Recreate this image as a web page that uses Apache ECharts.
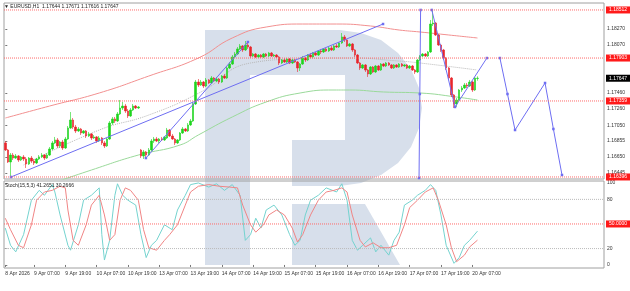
<!DOCTYPE html>
<html><head><meta charset="utf-8">
<script src="https://cdn.jsdelivr.net/npm/echarts@6/dist/echarts.min.js"></script>
<style>html,body{margin:0;padding:0;background:#fff}#c{width:630px;height:291px}</style>
</head><body><div id="c"></div><script>
const opens=[1.16827,1.16738,1.16586,1.16674,1.16636,1.16662,1.16611,1.16649,1.16624,1.16560,1.16636,1.16598,1.16573,1.16624,1.16649,1.16674,1.16636,1.16674,1.16751,1.16827,1.16865,1.16789,1.16839,1.16763,1.16877,1.17017,1.17118,1.17029,1.16979,1.17004,1.16953,1.16979,1.16915,1.16941,1.16890,1.16903,1.16852,1.16890,1.16827,1.16789,1.16877,1.17080,1.17131,1.17105,1.17194,1.17270,1.17295,1.17232,1.17169,1.17245,1.17295,1.17270,1.16738,1.16662,1.16713,1.16674,1.16738,1.16852,1.16877,1.16852,1.16877,1.16865,1.16890,1.16991,1.16915,1.16877,1.16827,1.16865,1.16953,1.17004,1.16979,1.17055,1.17105,1.17321,1.17599,1.17561,1.17599,1.17549,1.17625,1.17587,1.17650,1.17612,1.17637,1.17599,1.17675,1.17650,1.17777,1.17827,1.17916,1.17954,1.18018,1.18056,1.18005,1.18068,1.18043,1.17929,1.17954,1.17916,1.17941,1.17916,1.17954,1.17929,1.17967,1.17929,1.17941,1.17916,1.17840,1.17878,1.17853,1.17891,1.17840,1.17878,1.17853,1.17777,1.17827,1.17903,1.17878,1.17941,1.17916,1.17967,1.17941,1.17992,1.17980,1.18018,1.17992,1.18030,1.18005,1.18056,1.18043,1.18094,1.18170,1.18132,1.18056,1.18081,1.18005,1.17941,1.17840,1.17777,1.17815,1.17751,1.17701,1.17789,1.17726,1.17802,1.17751,1.17827,1.17802,1.17840,1.17815,1.17777,1.17815,1.17789,1.17827,1.17802,1.17815,1.17777,1.17802,1.17751,1.17726,1.17878,1.17929,1.17954,1.17929,1.17980,1.18334,1.18347,1.18195,1.18068,1.18005,1.17903,1.17777,1.17650,1.17435,1.17321,1.17371,1.17498,1.17523,1.17561,1.17549,1.17599,1.17498,1.17644];
const closes=[1.16738,1.16586,1.16674,1.16636,1.16662,1.16611,1.16649,1.16624,1.16560,1.16636,1.16598,1.16573,1.16624,1.16649,1.16674,1.16636,1.16674,1.16751,1.16827,1.16865,1.16789,1.16839,1.16763,1.16877,1.17017,1.17118,1.17029,1.16979,1.17004,1.16953,1.16979,1.16915,1.16941,1.16890,1.16903,1.16852,1.16890,1.16827,1.16789,1.16877,1.17080,1.17131,1.17105,1.17194,1.17270,1.17295,1.17232,1.17169,1.17245,1.17295,1.17270,1.17283,1.16662,1.16713,1.16674,1.16738,1.16852,1.16877,1.16852,1.16877,1.16865,1.16903,1.16991,1.16915,1.16877,1.16827,1.16865,1.16953,1.17004,1.16979,1.17055,1.17105,1.17321,1.17599,1.17561,1.17599,1.17549,1.17625,1.17587,1.17650,1.17612,1.17637,1.17599,1.17675,1.17650,1.17777,1.17827,1.17916,1.17954,1.18018,1.18056,1.18005,1.18068,1.18043,1.17929,1.17954,1.17916,1.17941,1.17916,1.17954,1.17929,1.17967,1.17929,1.17941,1.17916,1.17840,1.17878,1.17853,1.17891,1.17840,1.17878,1.17853,1.17777,1.17827,1.17903,1.17878,1.17941,1.17916,1.17967,1.17941,1.17992,1.17980,1.18018,1.17992,1.18030,1.18005,1.18056,1.18043,1.18094,1.18170,1.18132,1.18056,1.18081,1.18005,1.17941,1.17840,1.17777,1.17815,1.17751,1.17701,1.17789,1.17726,1.17802,1.17751,1.17827,1.17802,1.17840,1.17815,1.17777,1.17815,1.17789,1.17827,1.17802,1.17815,1.17777,1.17802,1.17751,1.17726,1.17878,1.17929,1.17954,1.17929,1.17980,1.18334,1.18347,1.18195,1.18068,1.18005,1.17903,1.17777,1.17650,1.17435,1.17321,1.17371,1.17498,1.17523,1.17561,1.17549,1.17599,1.17498,1.17650,1.17647];
const lows=[1.16725,1.16573,1.16396,1.16611,1.16624,1.16586,1.16598,1.16598,1.16510,1.16548,1.16573,1.16548,1.16560,1.16611,1.16636,1.16611,1.16624,1.16662,1.16738,1.16814,1.16763,1.16763,1.16738,1.16751,1.16865,1.17004,1.17004,1.16953,1.16966,1.16928,1.16941,1.16890,1.16903,1.16865,1.16877,1.16827,1.16839,1.16801,1.16763,1.16776,1.16865,1.17055,1.17080,1.17093,1.17181,1.17245,1.17207,1.17143,1.17156,1.17232,1.17257,1.17257,1.16636,1.16624,1.16649,1.16662,1.16725,1.16827,1.16839,1.16827,1.16852,1.16852,1.16877,1.16903,1.16865,1.16801,1.16814,1.16852,1.16941,1.16966,1.16966,1.17042,1.17093,1.17308,1.17536,1.17549,1.17523,1.17536,1.17574,1.17574,1.17599,1.17599,1.17574,1.17587,1.17637,1.17637,1.17764,1.17815,1.17903,1.17941,1.18005,1.17980,1.17992,1.18018,1.17903,1.17916,1.17903,1.17903,1.17903,1.17903,1.17916,1.17916,1.17916,1.17916,1.17903,1.17815,1.17827,1.17840,1.17840,1.17827,1.17827,1.17840,1.17726,1.17739,1.17815,1.17853,1.17865,1.17903,1.17903,1.17929,1.17929,1.17954,1.17967,1.17980,1.17980,1.17992,1.17992,1.18030,1.18030,1.18081,1.18106,1.18043,1.18043,1.17980,1.17916,1.17827,1.17751,1.17764,1.17726,1.17663,1.17688,1.17713,1.17713,1.17739,1.17739,1.17789,1.17789,1.17802,1.17764,1.17764,1.17777,1.17777,1.17789,1.17789,1.17764,1.17764,1.17739,1.17701,1.17713,1.17865,1.17916,1.17916,1.17916,1.17967,1.18309,1.18182,1.18056,1.17980,1.17878,1.17751,1.17625,1.17409,1.17270,1.17283,1.17359,1.17473,1.17511,1.17523,1.17536,1.17473,1.17485,1.17616];
const highs=[1.16852,1.16751,1.16700,1.16700,1.16687,1.16674,1.16662,1.16674,1.16649,1.16649,1.16662,1.16624,1.16636,1.16674,1.16700,1.16687,1.16700,1.16776,1.16852,1.16903,1.16890,1.16852,1.16865,1.16903,1.17042,1.17219,1.17143,1.17055,1.17029,1.17017,1.16991,1.16991,1.16966,1.16953,1.16928,1.16915,1.16915,1.16903,1.16852,1.16890,1.17105,1.17156,1.17156,1.17219,1.17371,1.17346,1.17321,1.17257,1.17270,1.17321,1.17308,1.17295,1.16751,1.16738,1.16725,1.16763,1.16877,1.16903,1.16903,1.16890,1.16903,1.16915,1.17017,1.17004,1.16941,1.16890,1.16877,1.16966,1.17029,1.17017,1.17080,1.17131,1.17346,1.17625,1.17637,1.17625,1.17612,1.17650,1.17637,1.17675,1.17663,1.17663,1.17650,1.17688,1.17701,1.17802,1.17853,1.17941,1.17980,1.18043,1.18081,1.18068,1.18119,1.18094,1.18056,1.17967,1.17967,1.17954,1.17954,1.17967,1.17967,1.17980,1.17980,1.17954,1.17954,1.17929,1.17891,1.17903,1.17903,1.17903,1.17891,1.17891,1.17865,1.17840,1.17929,1.17916,1.17954,1.17967,1.17980,1.17980,1.18005,1.18018,1.18030,1.18030,1.18043,1.18056,1.18068,1.18081,1.18106,1.18220,1.18195,1.18144,1.18094,1.18094,1.18018,1.17954,1.17853,1.17827,1.17827,1.17764,1.17802,1.17802,1.17815,1.17815,1.17840,1.17840,1.17853,1.17853,1.17827,1.17827,1.17827,1.17840,1.17840,1.17827,1.17827,1.17815,1.17815,1.17764,1.17891,1.17941,1.17967,1.17967,1.17992,1.18385,1.18512,1.18360,1.18207,1.18081,1.18018,1.17916,1.17789,1.17663,1.17447,1.17397,1.17511,1.17549,1.17587,1.17587,1.17625,1.17612,1.17663,1.17671];

const redMA=[[0,1.17143],[17,1.17295],[36,1.17460],[55,1.17675],[74,1.17903],[87,1.18157],[100,1.18296],[114,1.18334],[127,1.18334],[140,1.18309],[151,1.18258],[159,1.18233],[170,1.18195],[181,1.18157]];
const greenMA=[[15,1.16282],[33,1.16484],[51,1.16674],[67,1.16801],[74,1.16928],[87,1.17156],[100,1.17346],[113,1.17460],[126,1.17498],[132,1.17498],[145,1.17473],[159,1.17460],[173,1.17409],[181,1.17371]];
const grayMA=[[7,1.16548],[36,1.16991],[55,1.17181],[75,1.17473],[94,1.17840],[113,1.17891],[132,1.17903],[151,1.17865],[159,1.17840],[181,1.17751]];
const trend1=[[2.2,1.16396],[144.8,1.18334]];
const trend2=[[53.9,1.16636],[93.0,1.18106]];
const vline=[[158.6,1.16383],[158.9,1.17447],[159.2,1.18512]];
const zigA=[[163.5,1.18512],[172.4,1.17283],[184.6,1.17903]];
const zigB=[[189.6,1.17903],[192.5,1.17447],[195.4,1.16991],[206.9,1.17587],[210.1,1.17004],[213.4,1.16421]];

const stochK=[[0,45],[2,24],[4,16],[7,37],[10,79],[13,91],[15,85],[18,98],[19,89],[21,61],[24,24],[25,18],[28,49],[30,79],[33,85],[36,94],[37,37],[38,6],[40,30],[42,85],[43,99],[45,85],[47,79],[50,73],[52,37],[54,9],[56,24],[58,30],[61,49],[64,43],[66,67],[69,85],[71,98],[74,100],[78,95],[81,99],[84,91],[87,98],[90,85],[92,30],[94,37],[96,57],[98,45],[100,67],[103,73],[106,61],[109,37],[111,24],[113,30],[115,61],[117,79],[120,85],[123,94],[127,89],[129,99],[131,79],[133,30],[135,18],[137,24],[140,33],[142,16],[144,24],[147,12],[149,30],[151,40],[153,73],[156,79],[158,85],[161,91],[163,98],[165,91],[167,61],[169,24],[172,2],[174,9],[176,24],[178,30],[181,41.27]];
const stochD=[[0,57],[2,43],[5,24],[7,21],[10,49],[12,79],[15,89],[18,91],[21,96],[23,94],[24,67],[26,30],[28,24],[31,49],[33,73],[36,85],[38,61],[40,30],[42,37],[44,79],[46,94],[48,91],[51,79],[53,43],[55,21],[58,18],[61,30],[63,37],[66,49],[69,73],[71,89],[74,96],[78,98],[82,96],[86,95],[89,94],[91,73],[94,49],[96,40],[99,49],[101,61],[104,67],[107,61],[110,45],[112,28],[114,37],[117,61],[120,79],[123,89],[126,91],[129,94],[131,89],[133,61],[136,30],[138,22],[141,27],[144,21],[147,21],[150,24],[153,49],[155,70],[158,79],[161,89],[164,94],[166,79],[169,49],[171,21],[173,4],[176,12],[178,22],[181,30.27]];

const tickIndex=[0,11,23,35,47,59,71,83,95,107,119,131,143,155,167,179];
const tickText=['8 Apr 2026','9 Apr 07:00','9 Apr 19:00','10 Apr 07:00','10 Apr 19:00','13 Apr 07:00','13 Apr 19:00','14 Apr 07:00','14 Apr 19:00','15 Apr 07:00','15 Apr 19:00','16 Apr 07:00','16 Apr 19:00','17 Apr 07:00','17 Apr 19:00','20 Apr 07:00'];
const priceTicks=[1.16445,1.16650,1.16855,1.17050,1.17260,1.17460,1.18070,1.18270];
const levelLines=[1.18512,1.17903,1.17359,1.16396];
const lastPrice=1.17647;
const stochTicks=[0,20,80,100];
const stochLevels=[20,80];
const stochMid=50;

const categories=[];
(function(){let d=new Date(Date.UTC(2026,3,8,20));for(let i=0;i<230;i++){categories.push(d.toISOString().slice(0,13));d=new Date(d.getTime()+3600e3);if(d.getUTCDay()===6)d=new Date(d.getTime()+48*3600e3);}})();
const tickMap=new Map(tickIndex.map((v,k)=>[v,tickText[k]]));
const candles=opens.map((o,i)=>[o,closes[i],lows[i],highs[i]]);

const F='Liberation Sans';
const BLUE='#6e6ef2';
const wm='#d7dfeb';
const bowl=[[250,30],[340,30],[361,33],[381,40],[398,53],[411,69],[419,88],[422,108],[419,128],[411,147],[398,163],[381,175],[361,183],[340,186],[292,186],[292,140],[345,140],[345,75],[250,75]];
const chart=echarts.init(document.getElementById('c'),null,{renderer:'canvas'});
function blueLine(d){return {type:'line',xAxisIndex:2,yAxisIndex:0,data:d,showSymbol:true,symbol:'rect',symbolSize:2.5,itemStyle:{color:BLUE},lineStyle:{color:BLUE,width:1},z:4,silent:true};}
function levelSeries(v,xi,yi,txt,bg,lineColor,showLine){
  return {type:'line',xAxisIndex:xi,yAxisIndex:yi,data:[[-0.5,v],[229.5,v]],showSymbol:false,silent:true,z:5,
    lineStyle:{color:lineColor,type:'dotted',width:1,opacity:showLine?1:0},
    endLabel:txt?{show:true,formatter:txt,distance:2,backgroundColor:bg,color:'#fff',fontSize:5,padding:[1,3],fontFamily:F}:{show:false}};
}
const option={
 animation:false,
 textStyle:{fontFamily:F},
 grid:[{left:4,right:26,top:3,height:176,show:true,borderColor:'#a0a0a0',borderWidth:1},
       {left:4,right:26,top:181,height:87,show:true,borderColor:'#a0a0a0',borderWidth:1}],
 xAxis:[
  {type:'category',gridIndex:0,data:categories,axisLine:{show:false},axisTick:{show:false},axisLabel:{show:false},splitLine:{show:false}},
  {type:'category',gridIndex:1,data:categories,axisLine:{show:false},
   axisTick:{show:true,interval:(i)=>tickMap.has(i),alignWithLabel:true,length:2,lineStyle:{color:'#777'}},
   axisLabel:{interval:(i)=>tickMap.has(i),formatter:(v,i)=>tickMap.get(i)||'',fontSize:5,color:'#333',align:'left',margin:3,fontFamily:F},splitLine:{show:false}},
  {type:'value',gridIndex:0,min:-0.5,max:229.5,show:false},
  {type:'value',gridIndex:1,min:-0.5,max:229.5,show:false}
 ],
 yAxis:[
  {type:'value',gridIndex:0,position:'right',min:1.163704,max:1.186003,splitLine:{show:false},axisLine:{show:false},
   axisTick:{show:true,customValues:priceTicks,length:2,lineStyle:{color:'#777'}},
   axisLabel:{customValues:priceTicks,formatter:v=>v.toFixed(5),fontSize:5,color:'#333',margin:3,fontFamily:F}},
  {type:'value',gridIndex:1,position:'right',min:-3.7,max:102.4,splitLine:{show:false},axisLine:{show:false},
   axisTick:{show:true,customValues:stochTicks,length:2,lineStyle:{color:'#777'}},
   axisLabel:{customValues:stochTicks,formatter:v=>String(Math.round(v)),fontSize:5,color:'#333',margin:3,fontFamily:F}}
 ],
 graphic:[
  {type:'rect',z:-1,shape:{x:205,y:30,width:45,height:235},style:{fill:wm}},
  {type:'polygon',z:-1,shape:{points:bowl},style:{fill:wm}},
  {type:'polygon',z:-1,shape:{points:[[292,204],[365,204],[400,265],[292,265]]},style:{fill:wm}},
  {type:'text',z:100,left:4,top:4,style:{text:'\u25BC EURUSD,H1  1.17644 1.17671 1.17616 1.17647',fontSize:5,fontFamily:F,fill:'#222'}},
  {type:'text',z:100,left:5,top:183,style:{text:'Stoch(15,5,3) 41.2651 30.2666',fontSize:5,fontFamily:F,fill:'#222'}}
 ],
 series:[
  {type:'candlestick',xAxisIndex:0,yAxisIndex:0,data:candles,barWidth:2,z:3,
   itemStyle:{color:'#1ed51e',color0:'#e8262c',borderColor:'#1ed51e',borderColor0:'#e8262c',borderWidth:0.6}},
  {type:'line',xAxisIndex:2,yAxisIndex:0,data:redMA,smooth:true,showSymbol:false,lineStyle:{color:'#f29090',width:1},z:2,silent:true},
  {type:'line',xAxisIndex:2,yAxisIndex:0,data:greenMA,smooth:true,showSymbol:false,lineStyle:{color:'#9ad99a',width:1},z:2,silent:true},
  {type:'line',xAxisIndex:2,yAxisIndex:0,data:grayMA,smooth:true,showSymbol:false,lineStyle:{color:'#b8b8b8',width:1,type:'dotted'},z:2,silent:true},
  blueLine(trend1),blueLine(trend2),blueLine(vline),blueLine(zigA),blueLine(zigB),
  ...levelLines.map(v=>levelSeries(v,2,0,v.toFixed(5),'#ff1a1a','#ff6a6a',true)),
  levelSeries(lastPrice,2,0,lastPrice.toFixed(5),'#000','#000',false),
  ...stochLevels.map(v=>levelSeries(v,3,1,null,null,'#bbbbbb',true)),
  levelSeries(stochMid,3,1,'50.0000','#ff1a1a','#ff6a6a',true),
  {type:'line',xAxisIndex:3,yAxisIndex:1,data:stochK,showSymbol:false,lineStyle:{color:'#74d3cf',width:1},z:3,silent:true},
  {type:'line',xAxisIndex:3,yAxisIndex:1,data:stochD,showSymbol:false,lineStyle:{color:'#f08585',width:1},z:3,silent:true}
 ]
};
chart.setOption(option);
</script></body></html>
